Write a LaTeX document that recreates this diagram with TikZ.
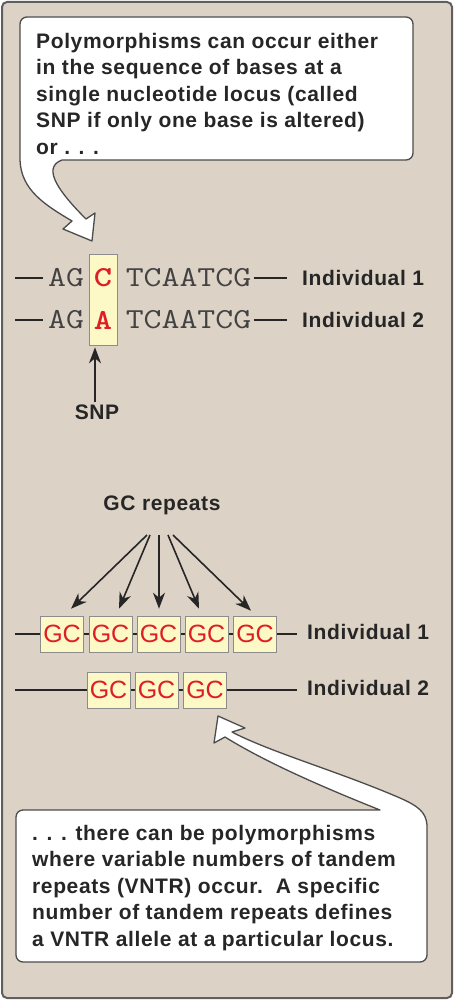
\documentclass[tikz,border=0pt]{standalone}
\usepackage{fontspec}
\setsansfont{Liberation Sans}
\newfontfamily\lblfont[LetterSpace=3]{Liberation Sans}
\usetikzlibrary{arrows.meta}
\definecolor{bg}{RGB}{220,210,198}
\definecolor{framec}{RGB}{95,95,95}
\definecolor{ylw}{RGB}{253,249,198}
\definecolor{dnared}{RGB}{222,30,38}
\definecolor{seqgray}{RGB}{66,66,66}
\tikzset{
 lbl/.style={font=\lblfont\bfseries\fontsize{21}{26.5}\selectfont, inner sep=0, text=black!85},
 callout/.style={fill=white, draw=black!70, line width=1.3pt, line join=round},
 gcbox/.style={draw=black!45, line width=0.6pt, fill=ylw, minimum width=43, minimum height=36, inner sep=0, font=\sffamily\fontsize{25}{25}\selectfont, text=dnared},
 snpbox/.style={draw=black!45, line width=0.6pt, fill=ylw, minimum width=28, minimum height=91, inner sep=0},
 seq/.style={font=\ttfamily\fontsize{29}{29}\selectfont, inner sep=0, text=seqgray},
 seqred/.style={font=\ttfamily\bfseries\fontsize{29}{29}\selectfont, inner sep=0, text=dnared},
 arr/.style={line width=1.6pt, black!85, -{Stealth[length=16pt,width=12pt,inset=5pt]}},
 strand/.style={line width=1.6pt, black!85},
}
\begin{document}
\begin{tikzpicture}[x=1pt,y=-1pt]
\useasboundingbox (0,0) rectangle (454,1000);
\draw[fill=bg, draw=framec, line width=2pt, rounded corners=5] (2,2) rectangle (452,998);

% top callout
\draw[callout] (62,160) [rounded corners=7] -- (413,160) -- (413,17) -- (20,17) -- (20,150) [sharp corners] -- (20,160)
  .. controls (21,190) and (45,205) .. (72,221) -- (63,229) -- (92,241) -- (95,213) -- (86,219)
  .. controls (62,195) and (40,168) .. (62,160) -- cycle;
\node[lbl, anchor=north west, align=left] (topnote) at (36,33) {Polymorphisms can occur either\\in the sequence of bases at a\\single nucleotide locus (called\\SNP if only one base is altered)\\or . . .};

% SNP section
\node[snpbox] (snpbox) at (103,299.5) {};
\node[seq] (ag1) at (66,278) {\scalebox{1.2}[1]{AG}};
\node[seqred] (c1) at (103,278) {\scalebox{1.2}[1]{C}};
\node[seq] (tc1) at (188.5,278) {\scalebox{1.2}[1]{TCAATCG}};
\node[seq] (ag2) at (66,320) {\scalebox{1.2}[1]{AG}};
\node[seqred] (a2) at (103,320) {\scalebox{1.2}[1]{A}};
\node[seq] (tc2) at (188.5,320) {\scalebox{1.2}[1]{TCAATCG}};
\coordinate (l1) at (15,278); \coordinate (r1) at (287,278);
\coordinate (l2) at (15,320); \coordinate (r2) at (287,320);
\draw[strand] (l1) -- ([xshift=-5pt]ag1.west);
\draw[strand] ([xshift=3pt]tc1.east) -- (r1);
\draw[strand] (l2) -- ([xshift=-5pt]ag2.west);
\draw[strand] ([xshift=3pt]tc2.east) -- (r2);
\node[lbl, anchor=west] (ind1) at (302,278) {Individual 1};
\node[lbl, anchor=west] (ind2) at (302,320) {Individual 2};
\node[lbl] (snp) at (97,412) {SNP};
\draw[arr] ([xshift=-2pt,yshift=2pt]snp.north) -- ([xshift=-8pt,yshift=-2pt]snpbox.south);

% GC repeats
\node[lbl] (gcr) at (162,505) {GC repeats};
\coordinate (row1l) at (15,634); \coordinate (row1r) at (297,634);
\coordinate (row2l) at (15,690); \coordinate (row2r) at (297,690);
\draw[strand] (row1l) -- (row1r);
\draw[strand] (row2l) -- (row2r);
\node[gcbox] (g1) at (62,634) {GC};
\node[gcbox] (g2) at (110.5,634) {GC};
\node[gcbox] (g3) at (158.5,634) {GC};
\node[gcbox] (g4) at (206.5,634) {GC};
\node[gcbox] (g5) at (255,634) {GC};
\node[gcbox] (h1) at (108.5,690) {GC};
\node[gcbox] (h2) at (156.5,690) {GC};
\node[gcbox] (h3) at (205,690) {GC};
\node[lbl, anchor=west] (ind3) at (307,632) {Individual 1};
\node[lbl, anchor=west] (ind4) at (307,688) {Individual 2};
\coordinate (s1) at (147,535); \coordinate (s2) at (150,535); \coordinate (s3) at (159,535);
\coordinate (s4) at (168,535); \coordinate (s5) at (173,535);
\draw[arr] (s1) -- ([xshift=9pt,yshift=7pt]g1.north);
\draw[arr] (s2) -- ([xshift=8.5pt,yshift=7pt]g2.north);
\draw[arr] (s3) -- ([xshift=0.5pt,yshift=7pt]g3.north);
\draw[arr] (s4) -- ([xshift=-7.5pt,yshift=7pt]g4.north);
\draw[arr] (s5) -- ([xshift=-4pt,yshift=5pt]g5.north);

% bottom callout
\draw[callout] (380,810) [rounded corners=7] -- (16,810) -- (16,962) -- (427,962) -- (427,835) [sharp corners] -- (427,825)
  .. controls (426,812) and (418,806) .. (400,798) .. controls (340,772) and (270,752) .. (232,732)
  -- (245,728) -- (218,716) -- (214,743) -- (225,737)
  .. controls (270,765) and (335,792) .. (380,810) -- cycle;
\node[lbl, anchor=north west, align=left] (botnote) at (32,825) {. . . there can be polymorphisms\\where variable numbers of tandem\\repeats (VNTR) occur.\ \ A specific\\number of tandem repeats defines\\a VNTR allele at a particular locus.};
\end{tikzpicture}
\end{document}
